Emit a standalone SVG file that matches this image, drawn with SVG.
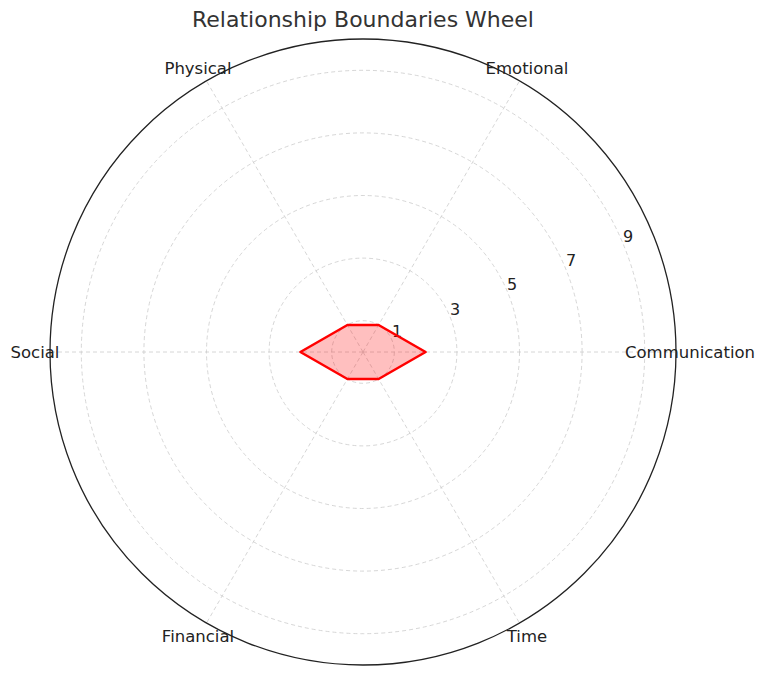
<svg xmlns="http://www.w3.org/2000/svg" width="768" height="676" viewBox="0 0 768 676">
<style>
text{font-family:"DejaVu Sans",sans-serif;fill:#222}
.lab{font-size:16.5px}
.tick{font-size:16px}
.grid{fill:none;stroke:#ccc;stroke-width:0.8;stroke-dasharray:4,3}
</style>
<rect width="768" height="676" fill="#fff"/>
<text x="363" y="27" text-anchor="middle" font-size="22" style="fill:#333">Relationship Boundaries Wheel</text>
<g id="grid">
<circle class="grid" cx="363" cy="352" r="31.3"/>
<circle class="grid" cx="363" cy="352" r="93.9"/>
<circle class="grid" cx="363" cy="352" r="156.5"/>
<circle class="grid" cx="363" cy="352" r="219.1"/>
<circle class="grid" cx="363" cy="352" r="281.7"/>
<path class="grid" d="M363,352H676M363,352H50M363,352L519.5,81M363,352L206.5,81M363,352L206.5,623M363,352L519.5,623"/>
</g>
<circle cx="363" cy="352" r="313" fill="none" stroke="#222" stroke-width="1.3"/>
<g id="ticks" class="tick">
<text x="397" y="337" text-anchor="middle">1</text>
<text x="455" y="315" text-anchor="middle">3</text>
<text x="512" y="290" text-anchor="middle">5</text>
<text x="571" y="266" text-anchor="middle">7</text>
<text x="628" y="242" text-anchor="middle">9</text>
</g>
<g id="data">
<polygon points="425.6,352 378.6,325 347.4,325 300.4,352 347.4,379 378.6,379" fill="#ff0000" fill-opacity="0.25" stroke="#ff0000" stroke-width="2.5" stroke-linejoin="round"/>
</g>
<g id="labels" class="lab">
<text id="communication" x="690" y="358" text-anchor="middle">Communication</text>
<text id="emotional" x="527" y="74" text-anchor="middle">Emotional</text>
<text id="physical" x="198" y="74" text-anchor="middle">Physical</text>
<text id="social" x="35" y="358" text-anchor="middle">Social</text>
<text id="financial" x="198" y="642" text-anchor="middle">Financial</text>
<text id="time" x="527" y="642" text-anchor="middle">Time</text>
</g>
</svg>
